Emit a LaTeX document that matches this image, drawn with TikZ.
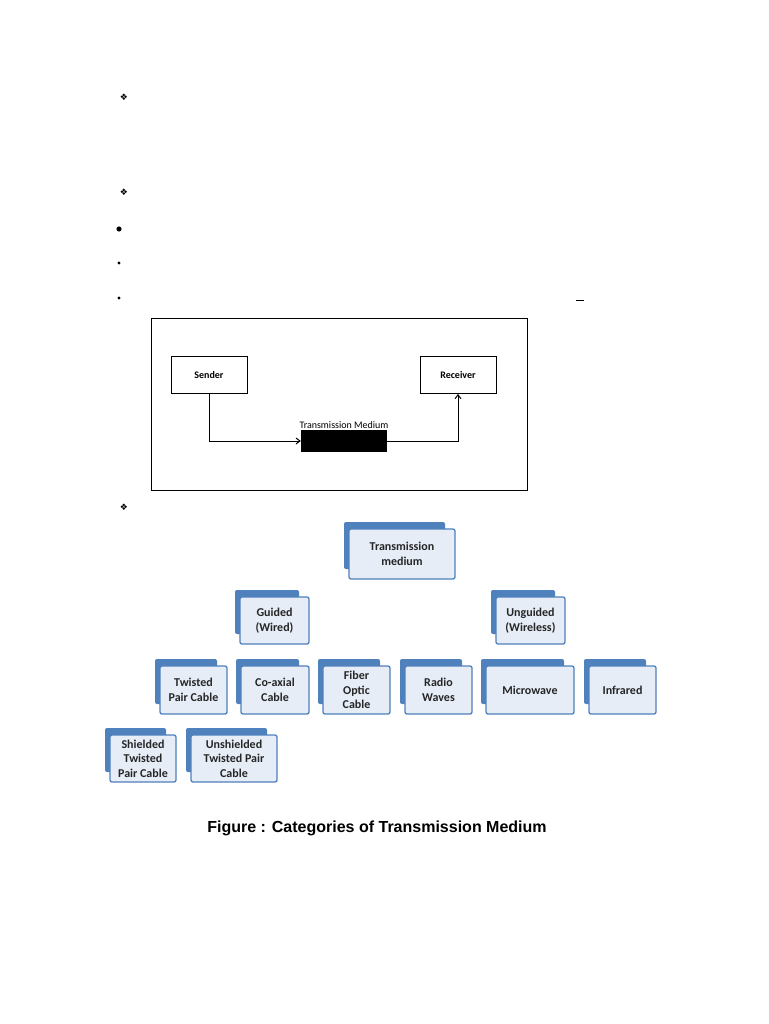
\documentclass[tikz,border=0pt]{standalone}
\usepackage{fontspec}
\setmainfont{Carlito}
\newfontfamily\dejavu{DejaVu Sans}
\newfontfamily\arialf{Liberation Sans}
\usetikzlibrary{arrows.meta,backgrounds}
\definecolor{backc}{HTML}{4F81BD}
\definecolor{lightbx}{HTML}{E6EDF7}
\tikzset{
 frontbox/.style={draw=backc,line width=1.3pt,fill=lightbx,rounded corners=2pt,inner sep=0pt,align=center,font=\fontsize{12}{14.5}\selectfont\bfseries,text=black!85},
 backbox/.style={fill=backc,rounded corners=2pt,inner sep=0pt},
 conn/.style={draw=backc,line width=1.3pt},
 plain/.style={draw=black,line width=0.9pt,inner sep=0pt,font=\fontsize{10}{12}\selectfont\bfseries},
 arr/.style={draw=black,line width=1pt,-{Straight Barb[length=4pt,width=6pt]}}
}
\newcommand\tbox[6]{%
 \pgfmathsetmacro\bw{#4-#2}\pgfmathsetmacro\bh{#5-#3}%
 \pgfmathsetmacro\cbw{#4-#2-5}\pgfmathsetmacro\cbh{#5-#3-3}%
 \node[backbox,minimum width=\cbw pt,minimum height=\cbh pt] (#1b) at ({(#2+#4)/2-7.5},{(#3+#5)/2-8.5}) {};
 \node[frontbox,minimum width=\bw pt,minimum height=\bh pt] (#1) at ({(#2+#4)/2},{(#3+#5)/2}) {#6};}
\begin{document}
\begin{tikzpicture}[x=1pt,y=-1pt]
\useasboundingbox[fill=white] (0,0) rectangle (768,1024);
% bullets
\node[font=\dejavu\fontsize{9}{9}\selectfont] (d1) at (124,97) {❖};
\node[font=\dejavu\fontsize{9}{9}\selectfont] (d2) at (124,192) {❖};
\node[font=\dejavu\fontsize{9}{9}\selectfont] (d3) at (124,507) {❖};
\fill (119,229) circle (2.6);
\fill (119,263) circle (1.7);
\fill (119,298) circle (1.7);
\draw[line width=0.8pt] (576,300) -- (584,300);
% sender diagram
\node[draw=black,line width=1pt,minimum width=376pt,minimum height=172pt,inner sep=0pt] (frame) at (339,404) {};
\node[plain,minimum width=76pt,minimum height=37pt] (snd) at (209,375) {Sender};
\node[plain,minimum width=76pt,minimum height=37pt] (rcv) at (458,375) {Receiver};
\node[fill=black,minimum width=86pt,minimum height=22pt,inner sep=0pt] (tmed) at (344,441) {};
\node[font=\fontsize{10}{12}\selectfont,anchor=south,inner sep=1.5pt] (tml) at (tmed.north) {Transmission Medium};
\draw[arr] (snd.south) |- (tmed.west);
\draw[arr] (tmed.east) -| (rcv.south);
% tree
\tbox{tm}{349}{529}{455}{579}{Transmission\\medium}
\tbox{gd}{240}{597}{309}{644}{Guided\\(Wired)}
\tbox{ug}{496}{597}{565}{644}{Unguided\\(Wireless)}
\tbox{tw}{160}{666}{227}{714}{Twisted\\Pair Cable}
\tbox{co}{241}{666}{309}{714}{Co-axial\\Cable}
\tbox{fi}{323}{666}{390}{714}{Fiber\\Optic\\Cable}
\tbox{ra}{405}{666}{472}{714}{Radio\\Waves}
\tbox{mi}{486}{666}{574}{714}{Microwave}
\tbox{in}{589}{666}{656}{714}{Infrared}
\tbox{sh}{110}{735}{176}{782}{Shielded\\Twisted\\Pair Cable}
\tbox{un}{191}{735}{277}{782}{Unshielded\\Twisted Pair\\Cable}
\begin{scope}[on background layer]
\draw[conn] (tmb.south) -- ++(0,5) -| (gdb.north);
\draw[conn] (tmb.south) -- ++(0,5) -| (ugb.north);
\draw[conn] (gdb.south) -- ++(0,10) -| (twb.north);
\draw[conn] (gdb.south) -- ++(0,10) -| (fib.north);
\draw[conn] (gdb.south) -- (cob.north);
\draw[conn] (ugb.south) -- ++(0,10) -| (rab.north);
\draw[conn] (ugb.south) -- ++(0,10) -| (inb.north);
\draw[conn] (ugb.south) -- (mib.north);
\draw[conn] (twb.south) -- ++(0,10) -| (shb.north);
\draw[conn] (twb.south) -- ++(0,10) -| (unb.north);
\end{scope}
\node[font=\arialf\bfseries\fontsize{16}{18}\selectfont] (cap) at (377,828) {Figure : Categories of Transmission Medium};
\end{tikzpicture}
\end{document}
